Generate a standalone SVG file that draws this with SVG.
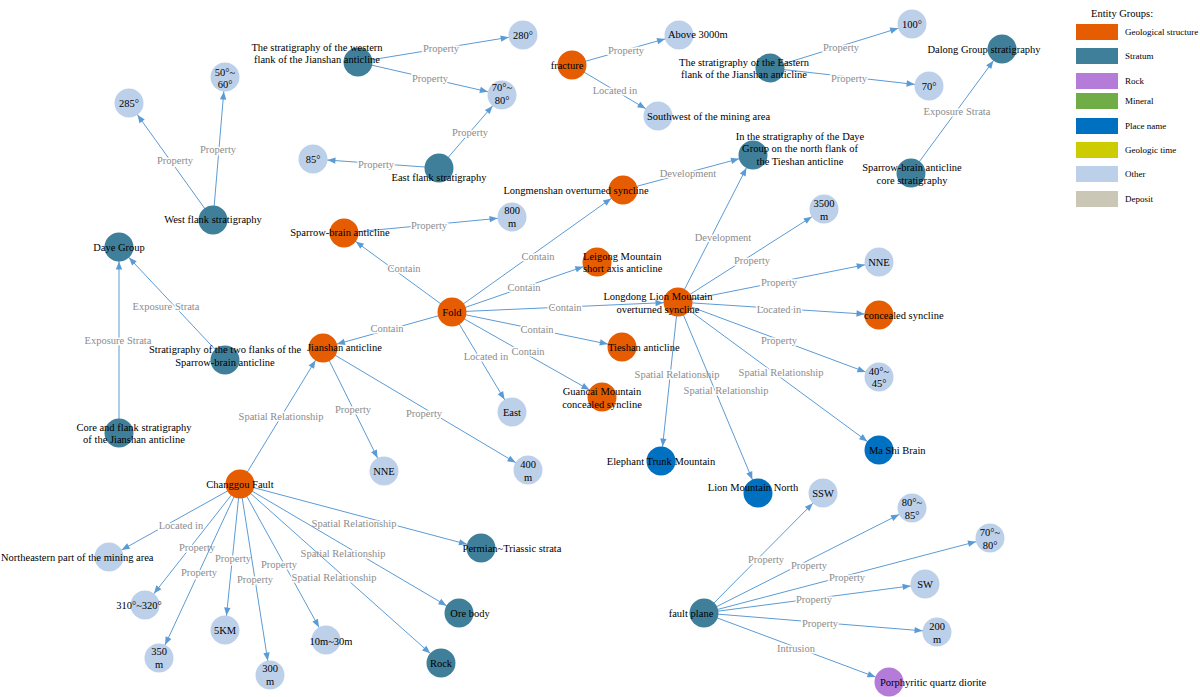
<svg xmlns="http://www.w3.org/2000/svg" width="1200" height="697" viewBox="0 0 1200 697">
<style>
text{font-family:"Liberation Serif","Times New Roman",serif;font-size:10.5px;fill:#000}
.e line{stroke:#5b9bd5;stroke-width:1;marker-end:url(#arr)}
.e text{fill:#8c8c8c;text-anchor:middle;stroke:#fff;stroke-width:3;paint-order:stroke;stroke-linejoin:round}
.c{text-anchor:middle}
.geo{fill:#e65c00}
.str{fill:#3f7f9a}
.rock{fill:#b57bd8}
.min{fill:#70ad47}
.pl{fill:#0070c0}
.gt{fill:#cccc00}
.oth{fill:#bdd0ea}
.dep{fill:#cac7b7}
circle{stroke:none}
.lg text{font-size:9px}
.lg text.t{font-size:10.5px}
</style>
<defs>
<marker id="arr" markerUnits="userSpaceOnUse" viewBox="-25 -5 25 10" markerWidth="25" markerHeight="10" refX="0" refY="0" orient="auto" overflow="visible">
<path d="M-14.5,0 L-22.5,-3.2 L-22.5,3.2 Z" fill="#5b9bd5"/>
</marker>
</defs>
<rect width="1200" height="697" fill="#fff"/>
<g id="connectors" class="e">
<line x1="358" y1="62" x2="523" y2="35"/><text x="441" y="48" dy="0.35em">Property</text>
<line x1="358" y1="62" x2="502" y2="95"/><text x="430" y="78" dy="0.35em">Property</text>
<line x1="439" y1="168" x2="502" y2="95"/><text x="470" y="132" dy="0.35em">Property</text>
<line x1="439" y1="168" x2="313" y2="159"/><text x="376" y="164" dy="0.35em">Property</text>
<line x1="213" y1="220" x2="129" y2="103"/><text x="175" y="160" dy="0.35em">Property</text>
<line x1="213" y1="220" x2="225" y2="77"/><text x="218" y="149" dy="0.35em">Property</text>
<line x1="344" y1="233" x2="512" y2="217"/><text x="429" y="225" dy="0.35em">Property</text>
<line x1="452" y1="312" x2="344" y2="233"/><text x="404" y="268" dy="0.35em">Contain</text>
<line x1="452" y1="312" x2="323" y2="348"/><text x="387" y="328" dy="0.35em">Contain</text>
<line x1="452" y1="312" x2="512" y2="412"/><text x="486" y="356" dy="0.35em">Located in</text>
<line x1="452" y1="312" x2="623" y2="190"/><text x="538" y="256" dy="0.35em">Contain</text>
<line x1="452" y1="312" x2="597" y2="262"/><text x="524" y="287" dy="0.35em">Contain</text>
<line x1="452" y1="312" x2="678" y2="302"/><text x="565" y="307" dy="0.35em">Contain</text>
<line x1="452" y1="312" x2="622" y2="347"/><text x="537" y="329" dy="0.35em">Contain</text>
<line x1="452" y1="312" x2="602" y2="397"/><text x="528" y="351" dy="0.35em">Contain</text>
<line x1="225" y1="360" x2="119" y2="247"/><text x="166" y="306" dy="0.35em">Exposure Strata</text>
<line x1="119" y1="433" x2="119" y2="247"/><text x="118" y="340" dy="0.35em">Exposure Strata</text>
<line x1="240" y1="484" x2="323" y2="348"/><text x="281" y="416" dy="0.35em">Spatial Relationship</text>
<line x1="323" y1="348" x2="384" y2="471"/><text x="353" y="409" dy="0.35em">Property</text>
<line x1="323" y1="348" x2="528" y2="470"/><text x="424" y="413" dy="0.35em">Property</text>
<line x1="572" y1="65" x2="679" y2="35"/><text x="626" y="50" dy="0.35em">Property</text>
<line x1="572" y1="65" x2="658" y2="116"/><text x="615" y="90" dy="0.35em">Located in</text>
<line x1="770" y1="68" x2="912" y2="24"/><text x="841" y="47" dy="0.35em">Property</text>
<line x1="770" y1="68" x2="929" y2="86"/><text x="849" y="78" dy="0.35em">Property</text>
<line x1="911" y1="173" x2="1002" y2="49"/><text x="957" y="111" dy="0.35em">Exposure Strata</text>
<line x1="623" y1="190" x2="753" y2="155"/><text x="688" y="173" dy="0.35em">Development</text>
<line x1="678" y1="302" x2="753" y2="155"/><text x="723" y="237" dy="0.35em">Development</text>
<line x1="678" y1="302" x2="824" y2="209"/><text x="752" y="260" dy="0.35em">Property</text>
<line x1="678" y1="302" x2="879" y2="262"/><text x="779" y="282" dy="0.35em">Property</text>
<line x1="678" y1="302" x2="879" y2="315"/><text x="779" y="309" dy="0.35em">Located in</text>
<line x1="678" y1="302" x2="879" y2="377"/><text x="779" y="340" dy="0.35em">Property</text>
<line x1="678" y1="302" x2="879" y2="450"/><text x="781" y="372" dy="0.35em">Spatial Relationship</text>
<line x1="678" y1="302" x2="661" y2="461"/><text x="677" y="374" dy="0.35em">Spatial Relationship</text>
<line x1="678" y1="302" x2="758" y2="493"/><text x="726" y="390" dy="0.35em">Spatial Relationship</text>
<line x1="240" y1="484" x2="109" y2="557"/><text x="181" y="525" dy="0.35em">Located in</text>
<line x1="240" y1="484" x2="145" y2="605"/><text x="197" y="547" dy="0.35em">Property</text>
<line x1="240" y1="484" x2="159" y2="658"/><text x="199" y="572" dy="0.35em">Property</text>
<line x1="240" y1="484" x2="225" y2="630"/><text x="233" y="558" dy="0.35em">Property</text>
<line x1="240" y1="484" x2="270" y2="675"/><text x="255" y="579" dy="0.35em">Property</text>
<line x1="240" y1="484" x2="326" y2="640"/><text x="279" y="564" dy="0.35em">Property</text>
<line x1="240" y1="484" x2="481" y2="548"/><text x="354" y="523" dy="0.35em">Spatial Relationship</text>
<line x1="240" y1="484" x2="459" y2="613"/><text x="343" y="553" dy="0.35em">Spatial Relationship</text>
<line x1="240" y1="484" x2="441" y2="663"/><text x="334" y="577" dy="0.35em">Spatial Relationship</text>
<line x1="704" y1="613" x2="823" y2="493"/><text x="766" y="559" dy="0.35em">Property</text>
<line x1="704" y1="613" x2="912" y2="508"/><text x="809" y="565" dy="0.35em">Property</text>
<line x1="704" y1="613" x2="990" y2="538"/><text x="847" y="577" dy="0.35em">Property</text>
<line x1="704" y1="613" x2="925" y2="584"/><text x="814" y="599" dy="0.35em">Property</text>
<line x1="704" y1="613" x2="937" y2="632"/><text x="820" y="623" dy="0.35em">Property</text>
<line x1="704" y1="613" x2="889" y2="682"/><text x="796" y="648" dy="0.35em">Intrusion</text>
</g>
<g id="n-wfj"><circle class="str" cx="358" cy="62" r="14.5"/><text class="c" x="317" y="51">The stratigraphy of the western</text><text class="c" x="317" y="63">flank of the Jianshan anticline</text></g>
<g id="n-280"><circle class="oth" cx="523" cy="35" r="14.5"/><text class="c" x="523" y="39">280°</text></g>
<g id="n-7080a"><circle class="oth" cx="502" cy="95" r="14.5"/><text class="c" x="502" y="91">70°~</text><text class="c" x="502" y="104">80°</text></g>
<g id="n-eflank"><circle class="str" cx="439" cy="168" r="14.5"/><text class="c" x="439" y="181">East flank stratigraphy</text></g>
<g id="n-85"><circle class="oth" cx="313" cy="159" r="14.5"/><text class="c" x="313" y="163">85°</text></g>
<g id="n-285"><circle class="oth" cx="129" cy="103" r="14.5"/><text class="c" x="129" y="107">285°</text></g>
<g id="n-5060"><circle class="oth" cx="225" cy="77" r="14.5"/><text class="c" x="225" y="76">50°~</text><text class="c" x="225" y="88">60°</text></g>
<g id="n-wflank"><circle class="str" cx="213" cy="220" r="14.5"/><text class="c" x="213" y="223">West flank stratigraphy</text></g>
<g id="n-sba"><circle class="geo" cx="344" cy="233" r="14.5"/><text class="c" x="340" y="236">Sparrow-brain anticline</text></g>
<g id="n-800"><circle class="oth" cx="512" cy="217" r="14.5"/><text class="c" x="512" y="214">800</text><text class="c" x="512" y="227">m</text></g>
<g id="n-fold"><circle class="geo" cx="452" cy="312" r="14.5"/><text class="c" x="452" y="316">Fold</text></g>
<g id="n-jianshan"><circle class="geo" cx="323" cy="348" r="14.5"/><text x="307" y="351">Jianshan anticline</text></g>
<g id="n-daye"><circle class="str" cx="119" cy="247" r="14.5"/><text class="c" x="119" y="251">Daye Group</text></g>
<g id="n-twoflanks"><circle class="str" cx="225" cy="360" r="14.5"/><text class="c" x="225" y="353">Stratigraphy of the two flanks of the</text><text class="c" x="225" y="366">Sparrow-brain anticline</text></g>
<g id="n-coreflank"><circle class="str" cx="119" cy="433" r="14.5"/><text class="c" x="134" y="431">Core and flank stratigraphy</text><text class="c" x="134" y="443">of the Jianshan anticline</text></g>
<g id="n-east"><circle class="oth" cx="512" cy="412" r="14.5"/><text class="c" x="512" y="416">East</text></g>
<g id="n-nne1"><circle class="oth" cx="384" cy="471" r="14.5"/><text class="c" x="384" y="475">NNE</text></g>
<g id="n-400"><circle class="oth" cx="528" cy="470" r="14.5"/><text class="c" x="528" y="468">400</text><text class="c" x="528" y="481">m</text></g>
<g id="n-fracture"><circle class="geo" cx="572" cy="65" r="14.5"/><text class="c" x="567" y="69">fracture</text></g>
<g id="n-above"><circle class="oth" cx="679" cy="35" r="14.5"/><text x="668" y="38">Above 3000m</text></g>
<g id="n-sw-mining"><circle class="oth" cx="658" cy="116" r="14.5"/><text x="647" y="120">Southwest of the mining area</text></g>
<g id="n-efj"><circle class="str" cx="770" cy="68" r="14.5"/><text class="c" x="744" y="66">The stratigraphy of the Eastern</text><text class="c" x="744" y="78">flank of the Jianshan anticline</text></g>
<g id="n-100"><circle class="oth" cx="912" cy="24" r="14.5"/><text class="c" x="912" y="28">100°</text></g>
<g id="n-70"><circle class="oth" cx="929" cy="86" r="14.5"/><text class="c" x="929" y="90">70°</text></g>
<g id="n-dalong"><circle class="str" cx="1002" cy="49" r="14.5"/><text class="c" x="984" y="53">Dalong Group stratigraphy</text></g>
<g id="n-dayenorth"><circle class="str" cx="753" cy="155" r="14.5"/><text class="c" x="800" y="140">In the stratigraphy of the Daye</text><text class="c" x="800" y="152">Group on the north flank of</text><text class="c" x="800" y="165">the Tieshan anticline</text></g>
<g id="n-sbcore"><circle class="str" cx="911" cy="173" r="14.5"/><text class="c" x="912" y="171">Sparrow-brain anticline</text><text class="c" x="912" y="184">core stratigraphy</text></g>
<g id="n-longmen"><circle class="geo" cx="623" cy="190" r="14.5"/><text class="c" x="576" y="194">Longmenshan overturned syncline</text></g>
<g id="n-leigong"><circle class="geo" cx="597" cy="262" r="14.5"/><text x="583" y="260">Leigong Mountain</text><text x="583" y="272">short axis anticline</text></g>
<g id="n-longdong"><circle class="geo" cx="678" cy="302" r="14.5"/><text class="c" x="658" y="300">Longdong Lion Mountain</text><text class="c" x="658" y="313">overturned syncline</text></g>
<g id="n-tieshan"><circle class="geo" cx="622" cy="347" r="14.5"/><text x="608" y="351">Tieshan anticline</text></g>
<g id="n-guancai"><circle class="geo" cx="602" cy="397" r="14.5"/><text class="c" x="602" y="395">Guancai Mountain</text><text class="c" x="602" y="408">concealed syncline</text></g>
<g id="n-3500"><circle class="oth" cx="824" cy="209" r="14.5"/><text class="c" x="824" y="207">3500</text><text class="c" x="824" y="220">m</text></g>
<g id="n-nne2"><circle class="oth" cx="879" cy="262" r="14.5"/><text class="c" x="879" y="266">NNE</text></g>
<g id="n-concealed"><circle class="geo" cx="879" cy="315" r="14.5"/><text x="864" y="319">concealed syncline</text></g>
<g id="n-4045"><circle class="oth" cx="879" cy="377" r="14.5"/><text class="c" x="879" y="375">40°~</text><text class="c" x="879" y="387">45°</text></g>
<g id="n-mashi"><circle class="pl" cx="879" cy="450" r="14.5"/><text x="869" y="454">Ma Shi Brain</text></g>
<g id="n-elephant"><circle class="pl" cx="661" cy="461" r="14.5"/><text class="c" x="661" y="465">Elephant Trunk Mountain</text></g>
<g id="n-lionnorth"><circle class="pl" cx="758" cy="493" r="14.5"/><text class="c" x="753" y="491">Lion Mountain North</text></g>
<g id="n-changgou"><circle class="geo" cx="240" cy="484" r="14.5"/><text class="c" x="240" y="488">Changgou Fault</text></g>
<g id="n-nemining"><circle class="oth" cx="109" cy="557" r="14.5"/><text x="1" y="561">Northeastern part of the mining area</text></g>
<g id="n-310"><circle class="oth" cx="145" cy="605" r="14.5"/><text class="c" x="139" y="609">310°~320°</text></g>
<g id="n-350"><circle class="oth" cx="159" cy="658" r="14.5"/><text class="c" x="159" y="655">350</text><text class="c" x="159" y="668">m</text></g>
<g id="n-5km"><circle class="oth" cx="225" cy="630" r="14.5"/><text class="c" x="225" y="634">5KM</text></g>
<g id="n-300"><circle class="oth" cx="270" cy="675" r="14.5"/><text class="c" x="270" y="672">300</text><text class="c" x="270" y="685">m</text></g>
<g id="n-1030"><circle class="oth" cx="326" cy="640" r="14.5"/><text class="c" x="331" y="645">10m~30m</text></g>
<g id="n-permian"><circle class="str" cx="481" cy="548" r="14.5"/><text class="c" x="512" y="552">Permian~Triassic strata</text></g>
<g id="n-ore"><circle class="str" cx="459" cy="613" r="14.5"/><text class="c" x="470" y="617">Ore body</text></g>
<g id="n-rock"><circle class="str" cx="441" cy="663" r="14.5"/><text class="c" x="441" y="667">Rock</text></g>
<g id="n-faultplane"><circle class="str" cx="704" cy="613" r="14.5"/><text class="c" x="691" y="617">fault plane</text></g>
<g id="n-ssw"><circle class="oth" cx="823" cy="493" r="14.5"/><text class="c" x="823" y="497">SSW</text></g>
<g id="n-8085"><circle class="oth" cx="912" cy="508" r="14.5"/><text class="c" x="912" y="506">80°~</text><text class="c" x="912" y="519">85°</text></g>
<g id="n-7080b"><circle class="oth" cx="990" cy="538" r="14.5"/><text class="c" x="990" y="536">70°~</text><text class="c" x="990" y="549">80°</text></g>
<g id="n-sw"><circle class="oth" cx="925" cy="584" r="14.5"/><text class="c" x="925" y="588">SW</text></g>
<g id="n-200"><circle class="oth" cx="937" cy="632" r="14.5"/><text class="c" x="937" y="630">200</text><text class="c" x="937" y="643">m</text></g>
<g id="n-porph"><circle class="rock" cx="889" cy="682" r="14.5"/><text x="880" y="686">Porphyritic quartz diorite</text></g>
<g id="legend" class="lg">
<text class="t" x="1091" y="17">Entity Groups:</text>
<rect class="geo" x="1076" y="24" width="42" height="16"/><text x="1125" y="35">Geological structure</text>
<rect class="str" x="1076" y="48" width="42" height="16"/><text x="1125" y="59">Stratum</text>
<rect class="rock" x="1076" y="73" width="42" height="16"/><text x="1125" y="84">Rock</text>
<rect class="min" x="1076" y="93" width="42" height="16"/><text x="1125" y="104">Mineral</text>
<rect class="pl" x="1076" y="118" width="42" height="16"/><text x="1125" y="129">Place name</text>
<rect class="gt" x="1076" y="142" width="42" height="16"/><text x="1125" y="153">Geologic time</text>
<rect class="oth" x="1076" y="166" width="42" height="16"/><text x="1125" y="177">Other</text>
<rect class="dep" x="1076" y="191" width="42" height="16"/><text x="1125" y="202">Deposit</text>
</g>
</svg>
